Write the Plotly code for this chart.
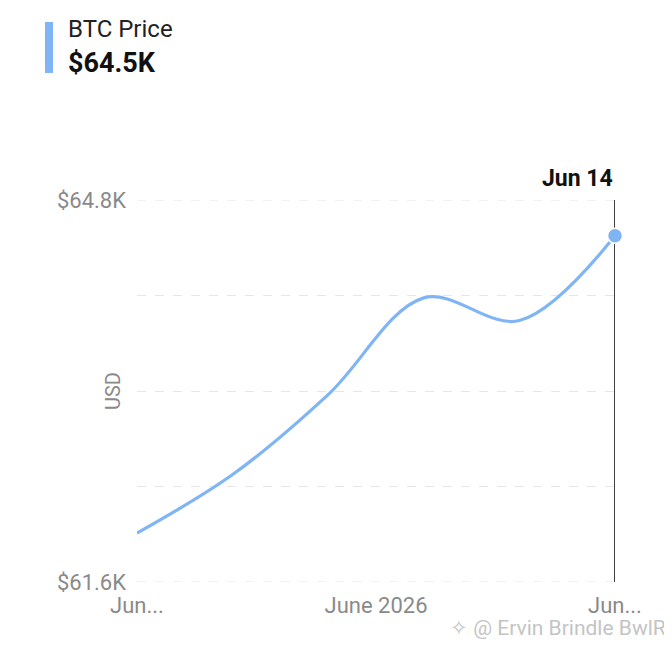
import plotly.graph_objects as go

# BTC price, daily (thousands of USD)
dates = ["2026-06-09", "2026-06-10", "2026-06-11", "2026-06-12", "2026-06-13", "2026-06-14"]
price_k = [62.01, 62.50, 63.17, 63.98, 63.79, 64.50]

y_ticks = [61.6, 62.4, 63.2, 64.0, 64.8]
y_ticktext = ["$61.6K", "", "", "", "$64.8K"]
x_ticks = ["2026-06-09", "2026-06-11 12:00", "2026-06-14"]
x_ticktext = ["Jun...", "June 2026", "Jun..."]

line_col = "#80b5f5"
grid_col = "#e6e6e6"
font = "Roboto, Noto Sans, sans-serif"

# page body adds 8px, so the figure is a bit smaller than the window
W, H = 664, 643
L, R, T, B = 129, 57, 192, 69
pw, ph = W - L - R, H - T - B

def px(X):
    # window pixel -> paper x
    return (X - 8 - L) / pw

def py(Y):
    return 1 - (Y - 8 - T) / ph

fig = go.Figure()
fig.add_trace(go.Scatter(x=dates, y=price_k, mode="lines",
                         line=dict(color=line_col, width=3.2, shape="spline", smoothing=1),
                         hoverinfo="skip", showlegend=False))
# highlighted last point
fig.add_trace(go.Scatter(x=[dates[-1]], y=[price_k[-1]], mode="markers",
                         marker=dict(color=line_col, size=15, line=dict(color="white", width=1.5)),
                         hoverinfo="skip", showlegend=False, cliponaxis=False))

# edge gridlines (plotly skips the ones on the range limits)
for v in (y_ticks[0], y_ticks[-1]):
    fig.add_shape(type="line", xref="x domain", x0=0, x1=1, yref="y", y0=v, y1=v,
                  line=dict(color=grid_col, width=1, dash="dash"), layer="below")

fig.add_shape(type="line", x0=dates[-1], x1=dates[-1], xref="x", y0=0, y1=1, yref="y domain",
              line=dict(color="black", width=1.5), layer="below")

fig.add_annotation(x=dates[-1], y=1, xref="x", yref="y domain", yshift=6,
                   text="<b>Jun 14</b>", showarrow=False, xanchor="right", yanchor="bottom",
                   font=dict(family=font, size=23, color="#111"))

# y title sits between the two tick labels
fig.add_annotation(x=px(113), y=py(391), xref="paper", yref="paper", text="USD", textangle=-90,
                   showarrow=False, xanchor="center", yanchor="middle",
                   font=dict(family=font, size=20, color="#8a8a8a"))

# legend-like header
fig.add_shape(type="line", xref="paper", yref="paper", x0=px(49), x1=px(49), y0=py(73), y1=py(22),
              line=dict(color=line_col, width=8))
fig.add_annotation(x=px(66), y=py(29), xref="paper", yref="paper", text="BTC Price", showarrow=False,
                   xanchor="left", yanchor="middle", font=dict(family=font, size=24, color="#222"))
fig.add_annotation(x=px(66), y=py(63), xref="paper", yref="paper", text="<b>$64.5K</b>", showarrow=False,
                   xanchor="left", yanchor="middle", font=dict(family=font, size=27, color="#111"))

# watermark
fig.add_annotation(x=px(668), y=py(628), xref="paper", yref="paper", text="\u2727 @ Ervin Brindle BwlR",
                   showarrow=False, xanchor="right", yanchor="middle",
                   font=dict(family=font, size=21, color="#c4c4c4"))

fig.update_xaxes(range=[dates[0], dates[-1]], tickvals=x_ticks, ticktext=x_ticktext,
                 showgrid=False, zeroline=False, showline=False, ticks="", ticklabelstandoff=8,
                 tickfont=dict(family=font, size=22, color="#8a8a8a"))
fig.update_yaxes(range=[61.6, 64.8], tickvals=y_ticks, ticktext=y_ticktext,
                 showgrid=True, gridcolor=grid_col, griddash="dash", gridwidth=1,
                 zeroline=False, showline=False, ticks="", ticklabelstandoff=10,
                 tickfont=dict(family=font, size=22, color="#8a8a8a"))

fig.update_layout(width=W, height=H, plot_bgcolor="white", paper_bgcolor="white",
                  margin=dict(l=L, r=R, t=T, b=B))
fig.write_html("out.html")
